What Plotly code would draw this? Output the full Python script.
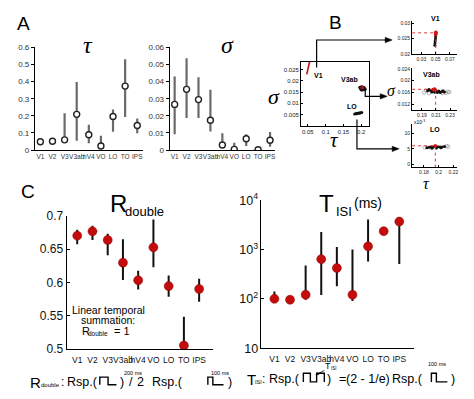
import plotly.graph_objects as go

W, H = 474, 399
def px(x): return x / W
def py(y): return 1 - y / H

# ---------------- data ----------------
regions = ["V1", "V2", "V3", "V3ab", "hV4", "VO", "LO", "TO", "IPS"]
idx = list(range(1, 10))

tau = [0.049, 0.052, 0.060, 0.209, 0.090, 0.024, 0.196, 0.374, 0.144]
tau_hi = [0.069, 0.056, 0.215, 0.398, 0.148, 0.084, 0.237, 0.531, 0.185]
tau_lo = [0.030, 0.046, 0.050, 0.054, 0.040, 0.010, 0.107, 0.194, 0.099]

sigma = [0.0267, 0.0355, 0.0295, 0.0174, 0.0030, 0.0004, 0.0066, 0.0002, 0.0058]
sigma_hi = [0.0430, 0.0536, 0.0426, 0.0353, 0.0099, 0.0043, 0.0093, 0.0004, 0.0106]
sigma_lo = [0.0093, 0.0187, 0.0187, 0.0108, 0.0015, 0.0000, 0.0024, 0.0000, 0.0020]

rdouble = [0.670, 0.6765, 0.6636, 0.6295, 0.6031, 0.6525, 0.5944, 0.5053, 0.5901]
rdouble_hi = [0.679, 0.685, 0.673, 0.6645, 0.6175, 0.6942, 0.6103, 0.5484, 0.6055]
rdouble_lo = [0.657, 0.6636, 0.6405, 0.6036, 0.5892, 0.6228, 0.5784, 0.5000, 0.5710]

tisi = [100, 96, 121, 640, 422, 121, 1162, 2365, 3700]
tisi_hi = [141, 111, 476, 2265, 1124, 1000, 4100, 2630, 4100]
tisi_lo = [82, 80, 96, 120, 181, 90, 576, 2042, 511]

# Panel B main: bootstrap clouds
b_v1_tau = [0.047, 0.049, 0.051, 0.053, 0.055]
b_v1_sig = [0.0229, 0.0243, 0.0257, 0.0271, 0.0285]
b_v3ab_tau = [0.197, 0.200, 0.203, 0.206, 0.209, 0.211, 0.199, 0.202, 0.205, 0.208, 0.201, 0.204, 0.207]
b_v3ab_sig = [0.0170, 0.0172, 0.0173, 0.0170, 0.0166, 0.0163, 0.0165, 0.0166, 0.0166, 0.0169, 0.0160, 0.0161, 0.0162]
b_v3ab_red_tau = [0.202, 0.205]
b_v3ab_red_sig = [0.0169, 0.0171]
b_lo_tau = [0.182, 0.186, 0.190, 0.194, 0.198, 0.202, 0.188, 0.196]
b_lo_sig = [0.0053, 0.0055, 0.0056, 0.0057, 0.0058, 0.0059, 0.0054, 0.0056]

# Insets
v1_tau = [0.0488, 0.0491, 0.0494, 0.0497, 0.0500, 0.0502, 0.0504]
v1_sig = [0.0228, 0.0235, 0.0242, 0.0249, 0.0256, 0.0263, 0.0270]
v1_red_tau = [0.0501, 0.0503, 0.0502]
v1_red_sig = [0.0262, 0.0266, 0.0270]
v1_est = (0.0502, 0.0268)

v3_tau = [0.198, 0.202, 0.206, 0.210, 0.214, 0.218, 0.222, 0.204, 0.208, 0.212, 0.216, 0.200, 0.210, 0.220]
v3_sig = [0.0166, 0.0168, 0.0169, 0.0167, 0.0165, 0.0163, 0.0162, 0.0162, 0.0161, 0.0160, 0.0160, 0.0170, 0.0164, 0.0166]
v3_gray_tau = [0.193, 0.196, 0.224, 0.227, 0.229, 0.219, 0.200]
v3_gray_sig = [0.0160, 0.0167, 0.0159, 0.0163, 0.0161, 0.0158, 0.0158]
v3_red_tau = [0.206, 0.209, 0.208]
v3_red_sig = [0.0170, 0.0169, 0.0172]
v3_est = (0.2095, 0.0171)

lo_tau = [0.184, 0.187, 0.190, 0.193, 0.196, 0.199, 0.202, 0.205, 0.208, 0.191, 0.197, 0.203]
lo_sig = [5.4, 5.5, 5.6, 5.7, 5.8, 5.7, 5.6, 5.6, 5.8, 5.2, 5.3, 5.4]
lo_gray_tau = [0.181, 0.211, 0.213]
lo_gray_sig = [5.5, 5.9, 5.7]
lo_est = (0.1955, 6.0)

FONT = "Liberation Sans, Arial, sans-serif"
SERIF = "Liberation Serif, DejaVu Serif, serif"

fig = go.Figure()

def err(v, hi, lo):
    return dict(type="data", symmetric=False,
                array=[h - a for a, h in zip(v, hi)],
                arrayminus=[a - l for a, l in zip(v, lo)])

# Panel A
for n, (vals, hi, lo) in enumerate([(tau, tau_hi, tau_lo), (sigma, sigma_hi, sigma_lo)], start=1):
    e = err(vals, hi, lo)
    e.update(color="#6a6a6a", thickness=2.2, width=0)
    fig.add_trace(go.Scatter(x=idx, y=vals, mode="markers", xaxis=f"x{n}", yaxis=f"y{n}",
                             error_y=e,
                             marker=dict(symbol="circle", size=6, color="white",
                                         line=dict(color="#222", width=1.4))))

# Panel B main
fig.add_trace(go.Scatter(x=b_v1_tau, y=b_v1_sig, mode="lines", xaxis="x3", yaxis="y3",
                         line=dict(color="#c81010", width=1.6)))
fig.add_trace(go.Scatter(x=b_v3ab_tau, y=b_v3ab_sig, mode="markers", xaxis="x3", yaxis="y3",
                         marker=dict(color="#111", size=3.5)))
fig.add_trace(go.Scatter(x=b_v3ab_red_tau, y=b_v3ab_red_sig, mode="markers", xaxis="x3", yaxis="y3",
                         marker=dict(color="#b01010", size=3)))
fig.add_trace(go.Scatter(x=b_lo_tau, y=b_lo_sig, mode="markers", xaxis="x3", yaxis="y3",
                         marker=dict(color="#111", size=3)))

# Insets
insets = [
    (4, v1_tau, v1_sig, None, None, v1_red_tau, v1_red_sig, v1_est, (0.017, 0.08), (0.02, 0.0305)),
    (5, v3_tau, v3_sig, v3_gray_tau, v3_gray_sig, v3_red_tau, v3_red_sig, v3_est, (0.176, 0.24), (0.0102, 0.0242)),
    (6, lo_tau, lo_sig, lo_gray_tau, lo_gray_sig, [lo_est[0]], [lo_est[1]], lo_est, (0.164, 0.225), (-1, 13)),
]
for n, bt, bs, gt, gs, rt, rs, est, xr, yr in insets:
    if gt:
        fig.add_trace(go.Scatter(x=gt, y=gs, mode="markers", xaxis=f"x{n}", yaxis=f"y{n}",
                                 marker=dict(symbol="circle-open", color="#888", size=3.5, line=dict(width=0.6))))
    fig.add_trace(go.Scatter(x=bt, y=bs, mode="markers", xaxis=f"x{n}", yaxis=f"y{n}",
                             marker=dict(color="#111", size=3)))
    fig.add_trace(go.Scatter(x=[xr[0], est[0], est[0]], y=[est[1], est[1], yr[0]], mode="lines",
                             xaxis=f"x{n}", yaxis=f"y{n}",
                             line=dict(color="#e03030", width=1, dash="dot")))
    fig.add_trace(go.Scatter(x=rt, y=rs, mode="markers", xaxis=f"x{n}", yaxis=f"y{n}",
                             marker=dict(color="#d01515", size=3.5)))

# Panel C
e = err(rdouble, rdouble_hi, rdouble_lo)
e.update(color="#111", thickness=2, width=0)
fig.add_trace(go.Scatter(x=idx, y=rdouble, mode="markers", xaxis="x7", yaxis="y7", error_y=e,
                         marker=dict(color="#c40c0c", size=9, line=dict(color="#8a0000", width=0.5))))
e = err(tisi, tisi_hi, tisi_lo)
e.update(color="#111", thickness=2, width=0)
fig.add_trace(go.Scatter(x=idx, y=tisi, mode="markers", xaxis="x8", yaxis="y8", error_y=e,
                         marker=dict(color="#c40c0c", size=9, line=dict(color="#8a0000", width=0.5))))

def dom(a, b, flip=False):
    return [px(a), px(b)] if not flip else [py(b), py(a)]

base = dict(showgrid=False, zeroline=False, showline=True, linecolor="black", linewidth=1,
            ticks="outside", ticklen=3, tickcolor="black", tickangle=0,
            tickfont=dict(family=FONT, size=8, color="#333"))

layout = dict(width=W, height=H, margin=dict(l=0, r=0, t=0, b=0), showlegend=False,
              plot_bgcolor="white", paper_bgcolor="white", font=dict(family=FONT))

def setax(n, xd, yd, xkw, ykw):
    xa = dict(base); xa.update(domain=dom(*xd), anchor=f"y{n}"); xa.update(xkw)
    ya = dict(base); ya.update(domain=dom(*yd, flip=True), anchor=f"x{n}"); ya.update(ykw)
    layout["xaxis" if n == 1 else f"xaxis{n}"] = xa
    layout["yaxis" if n == 1 else f"yaxis{n}"] = ya

catx = dict(tickvals=idx, ticktext=regions, ticklen=0)
afont = dict(family=FONT, size=6.5, color="#333")
setax(1, (35, 143), (40, 147), dict(catx, range=[0.55, 9.45], tickfont=afont),
      dict(range=[0, 0.6], tickvals=[0, 0.1, 0.2, 0.3, 0.4, 0.5, 0.6], ticktext=["0", "0.1", "0.2", "0.3", "0.4", "0.5", "0.6"]))
setax(2, (170, 276), (40, 147), dict(catx, range=[0.58, 9.45], tickfont=afont),
      dict(range=[0, 0.06], tickvals=[0, 0.01, 0.02, 0.03, 0.04, 0.05, 0.06], ticktext=["0", "0.01", "0.02", "0.03", "0.04", "0.05", "0.06"]))
small6 = dict(family=FONT, size=6, color="#222")
small5 = dict(family=FONT, size=5, color="#222")
setax(3, (301.7, 370), (55, 121.7),
      dict(range=[0.031, 0.223], tickvals=[0.05, 0.1, 0.15, 0.2], ticktext=["0.05", "0.1", "0.15", "0.2"],
           mirror=True, ticks="inside", ticklen=2, tickfont=small6),
      dict(range=[0, 0.0285], tickvals=[0.005, 0.01, 0.015, 0.02, 0.025], ticktext=["0.005", "0.01", "0.015", "0.02", "0.025"],
           mirror=True, ticks="inside", ticklen=2, tickfont=small6))
setax(4, (413, 458), (13, 46.7),
      dict(range=[0.017, 0.08], tickvals=[0.03, 0.05, 0.07], ticktext=["0.03", "0.05", "0.07"], ticks="inside", ticklen=2, tickfont=small5),
      dict(range=[0.02, 0.0305], tickvals=[0.02, 0.025, 0.03], ticktext=["0.02", "0.025", "0.03"], ticks="inside", ticklen=2, tickfont=small5))
setax(5, (413, 458), (61.7, 105),
      dict(range=[0.176, 0.24], tickvals=[0.19, 0.21, 0.23], ticktext=["0.19", "0.21", "0.23"], ticks="inside", ticklen=2, tickfont=small5),
      dict(range=[0.0102, 0.0242], tickvals=[0.012, 0.016, 0.02, 0.024], ticktext=["0.012", "0.016", "0.02", "0.024"], ticks="inside", ticklen=2, tickfont=small5))
setax(6, (413, 458), (120, 165),
      dict(range=[0.164, 0.225], tickvals=[0.18, 0.2, 0.22], ticktext=["0.18", "0.2", "0.22"], ticks="inside", ticklen=2, tickfont=small5),
      dict(range=[-1, 13], tickvals=[0, 5, 10], ticktext=["0", "5", "10"], ticks="inside", ticklen=2, tickfont=small5))
cfont = dict(family=FONT, size=8.5, color="#111")
setax(7, (66.7, 213.3), (215.3, 354.3),
      dict(catx, range=[0.3, 9.9], tickfont=cfont, ticklabelstandoff=3),
      dict(range=[0.5, 0.7], tickvals=[0.5, 0.55, 0.6, 0.65, 0.7], ticktext=["0.5", "0.55", "0.6", "0.65", "0.7"],
           ticks="inside", ticklen=3, tickfont=dict(family=FONT, size=12, color="#111")))
setax(8, (261.7, 415), (199.3, 353.3),
      dict(catx, range=[0.15, 9.95], tickfont=cfont, ticklabelstandoff=3),
      dict(type="log", range=[1, 4], dtick=1, exponentformat="power", ticks="inside", ticklen=3,
           tickfont=dict(family=FONT, size=10, color="#111")))
fig.update_layout(**layout)

ann = []
def T(x, y, text, size, family=FONT, color="black", xanchor="center", yanchor="middle"):
    ann.append(dict(x=px(x), y=py(y), xref="paper", yref="paper", text=text, showarrow=False,
                    font=dict(family=family, size=size, color=color), xanchor=xanchor, yanchor=yanchor))

T(24, 15, "A", 19)
T(336, 14, "B", 19)
T(28, 190, "C", 19)
T(88, 37, "<i>τ</i>", 24, SERIF)
T(228, 37, "<i>σ</i>", 24, SERIF)
T(275, 91, "<i>σ</i>", 22, SERIF)
T(335, 136, "<i>τ</i>", 21, SERIF)
T(392, 85, "<i>σ</i>", 16, SERIF)
T(427, 182, "<i>τ</i>", 16, SERIF)
T(319.5, 69.5, "<b>V1</b>", 7)
T(350.7, 73.3, "<b>V3ab</b>", 7)
T(352.7, 101.7, "<b>LO</b>", 7)
T(436, 10, "<b>V1</b>", 7)
T(432, 68, "<b>V3ab</b>", 7)
T(436, 126, "<b>LO</b>", 7)
T(413, 118, "x10<sup>-3</sup>", 5, xanchor="left")
# C titles
T(118.3, 203, "R", 24)
T(145, 210.7, "double", 13)
T(327, 203, "T", 24)
T(345, 210.7, "ISI", 13)
T(369, 202, "(ms)", 14)
T(108.7, 314, "Linear temporal", 10.5)
T(108.7, 324.5, "summation:", 10.5)
T(86, 335.5, "R", 11)
T(98, 338.3, "double", 6.5)
T(122.5, 335.5, "= 1", 11)
# formula left
T(36, 389, "R", 15)
T(51, 392, "double", 6)
T(62.5, 389, ":", 12)
T(83, 389, "Rsp.(", 12.5)
T(122, 389, ")", 12.5)
T(131, 389, "/", 12.5)
T(141, 389, "2", 12.5)
T(168, 389, "Rsp.(", 12.5)
T(230, 389, ")", 12.5)
T(133.3, 379.5, "200 ms", 5.5)
T(220.7, 379.5, "100 ms", 5.5)
# formula right
T(252.3, 385.5, "T", 15)
T(259, 389, "ISI", 5.5)
T(264, 385.5, ":", 12)
T(285, 385.5, "Rsp.(", 12.5)
T(330, 385.5, ")", 12.5)
T(343.3, 385.5, "=", 12.5)
T(369, 385.5, "(2 - 1/e)", 12.5)
T(408.3, 385.5, "Rsp.(", 12.5)
T(454, 385.5, ")", 12.5)
T(438.3, 369.5, "100 ms", 5.5)
T(328.3, 372, "T", 9)
T(334.5, 374, "ISI", 4.5)
fig.update_layout(annotations=ann)

def path(pts, close=False):
    s = "M " + " L ".join(f"{px(x):.5f},{py(y):.5f}" for x, y in pts)
    return s + (" Z" if close else "")

shapes = []
def line_path(pts, w=1.2):
    shapes.append(dict(type="path", path=path(pts), xref="paper", yref="paper",
                       line=dict(color="black", width=w)))
def head(tx, ty, dx=1):
    shapes.append(dict(type="path", path=path([(tx, ty), (tx - 7 * dx, ty - 2.8), (tx - 7 * dx, ty + 2.8)], True),
                       xref="paper", yref="paper", fillcolor="black", line=dict(color="black", width=0.5)))

line_path([(317.3, 61), (317.3, 32.3), (388, 32.3)])
head(393, 32.3)
line_path([(366, 84), (366, 91), (383, 91)])
head(388, 91)
line_path([(357.7, 115), (357.7, 145.7), (395, 145.7)])
head(400, 145.7)
# pulse glyphs
line_path([(100, 391.5), (100, 383.5), (108.3, 383.5), (108.3, 391.5), (116.7, 391.5)], 1.4)
line_path([(208.3, 391.5), (208.3, 383.5), (213.3, 383.5), (213.3, 391.5), (224, 391.5)], 1.4)
line_path([(304, 388.5), (304, 379.5), (311, 379.5), (311, 388.5), (317.3, 388.5), (317.3, 379.5), (325, 379.5), (325, 388.5)], 1.4)
line_path([(432.3, 388.5), (432.3, 379.5), (437.3, 379.5), (437.3, 388.5), (448.3, 388.5)], 1.4)
# T_ISI pointer
line_path([(325, 376.5), (318.5, 380.2)], 0.8)
shapes.append(dict(type="path", path=path([(316.5, 381.3), (318.2, 378.6), (319.8, 380.9)], True),
                   xref="paper", yref="paper", fillcolor="black", line=dict(color="black", width=0.3)))
fig.update_layout(shapes=shapes)

fig.write_html("out.html", config={"displayModeBar": False},
               post_script="document.body.style.margin='0px';document.body.style.overflow='hidden';")
